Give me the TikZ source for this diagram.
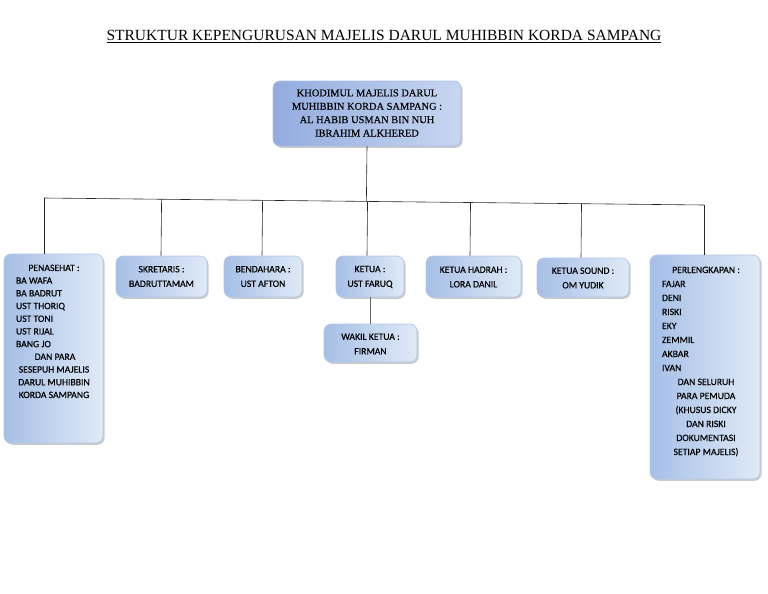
\documentclass[tikz,border=0pt]{standalone}
\usepackage{fontspec}
\setmainfont{Liberation Serif}
\newfontfamily\boxfont{Carlito}[FakeBold=0.35]
\newfontfamily\headfont{Liberation Serif}[FakeBold=0.25]
\usetikzlibrary{shadows,calc}

\definecolor{boxdark}{HTML}{A6BFE6}
\definecolor{boxlight}{HTML}{E0EAF7}
\definecolor{topdark}{HTML}{93ACDF}
\definecolor{toplight}{HTML}{C7D6F0}
\definecolor{boxedge}{HTML}{B3C7E9}

\tikzset{
  unitbox/.style={rounded corners=7pt, draw=boxedge, line width=0.6pt,
    left color=boxdark, right color=boxlight,
    drop shadow={shadow xshift=1.6pt, shadow yshift=-1.8pt, fill=black!45, opacity=0.45},
    inner sep=0pt},
  headbox/.style={unitbox, left color=topdark, right color=toplight, draw=topdark!80},
  unittext/.style={font=\boxfont\fontsize{9.7}{14.6}\selectfont, align=center, inner sep=0pt},
  listtext/.style={font=\boxfont\fontsize{9.7}{#1}\selectfont, align=left, inner sep=0pt, anchor=north},
  bus/.style={draw=black!85, line width=0.6pt},
}
% a line centred across the width of a list
\newcommand{\midline}[2]{\makebox[#1][c]{#2}}

\begin{document}
\begin{tikzpicture}[x=1pt,y=-1pt]
  \useasboundingbox (0,0) rectangle (768,594);

  % title
  \node[font=\fontsize{15.5}{18}\selectfont, inner sep=0pt, anchor=base] (title) at (384,40.7)
    {\underline{STRUKTUR KEPENGURUSAN MAJELIS DARUL MUHIBBIN KORDA SAMPANG}};

  % head of the organisation
  \node[headbox, minimum width=188pt, minimum height=65pt] (head) at (367,113.5) {};
  \node[font=\headfont\fontsize{10.4}{13.4}\selectfont, align=center, inner sep=0pt] (headtext) at (367,113)
    {KHODIMUL MAJELIS DARUL\\MUHIBBIN KORDA SAMPANG :\\AL HABIB USMAN BIN NUH\\IBRAHIM ALKHERED};

  % units
  \node[unitbox, minimum width=99pt, minimum height=189pt] (pen) at (53.5,348.5) {};
  \node[unitbox, minimum width=91pt, minimum height=41pt] (sek) at (161.5,276.5) {};
  \node[unitbox, minimum width=78pt, minimum height=41pt] (ben) at (263,276.5) {};
  \node[unitbox, minimum width=68pt, minimum height=41pt] (ket) at (370,276.5) {};
  \node[unitbox, minimum width=93pt, minimum height=38pt] (wak) at (370.5,343) {};
  \node[unitbox, minimum width=95pt, minimum height=41pt] (had) at (473.5,276.5) {};
  \node[unitbox, minimum width=92pt, minimum height=39pt] (sou) at (583,277.5) {};
  \node[unitbox, minimum width=110pt, minimum height=224pt] (per) at (705,367) {};

  % unit labels
  \node[unittext] (sektext) at (161.5,276.5) {SKRETARIS :\\BADRUTTAMAM};
  \node[unittext] (bentext) at (263,276.5) {BENDAHARA :\\UST AFTON};
  \node[unittext] (kettext) at (370,277) {KETUA :\\UST FARUQ};
  \node[unittext] (waktext) at (370.5,344) {WAKIL KETUA :\\FIRMAN};
  \node[unittext] (hadtext) at (473.5,277) {KETUA HADRAH :\\LORA DANIL};
  \node[unittext] (soutext) at (583,278) {KETUA SOUND :\\OM YUDIK};

  \node[listtext=12.7] (pentext) at (55,264.5)
    {\midline{76pt}{PENASEHAT :}\\BA WAFA\\BA BADRUT\\UST THORIQ\\UST TONI\\UST RIJAL\\BANG JO\\
     \midline{78pt}{DAN PARA}\\\midline{76pt}{SESEPUH MAJELIS}\\
     \midline{76pt}{DARUL MUHIBBIN}\\\midline{76pt}{KORDA SAMPANG}};

  \node[listtext=14.0] (pertext) at (706,266.5)
    {\midline{88pt}{PERLENGKAPAN :}\\FAJAR\\DENI\\RISKI\\EKY\\ZEMMIL\\AKBAR\\IVAN\\
     \midline{88pt}{DAN SELURUH}\\\midline{88pt}{PARA PEMUDA}\\\midline{88pt}{(KHUSUS DICKY}\\
     \midline{88pt}{DAN RISKI}\\\midline{88pt}{DOKUMENTASI}\\\midline{88pt}{SETIAP MAJELIS)}};

  % connectors
  \coordinate (busL) at (44,198);
  \coordinate (busR) at (704,205);
  \draw[bus] (busL) -- (busR);
  \draw[bus] (head.south) -- ($(busL)!(head.south)!(busR)$);
  \draw[bus] (busL) -- ([xshift=-9.5pt]pen.north);
  \draw[bus] ($(busL)!([xshift=-0.5pt]sek.north)!(busR)$) -- ([xshift=-0.5pt]sek.north);
  \draw[bus] ($(busL)!([xshift=-1pt]ben.north)!(busR)$) -- ([xshift=-1pt]ben.north);
  \draw[bus] ($(busL)!([xshift=-3pt]ket.north)!(busR)$) -- ([xshift=-3pt]ket.north);
  \draw[bus] ($(busL)!([xshift=-3.5pt]had.north)!(busR)$) -- ([xshift=-3.5pt]had.north);
  \draw[bus] ($(busL)!([xshift=-2pt]sou.north)!(busR)$) -- ([xshift=-2pt]sou.north);
  \draw[bus] (busR) -- ([xshift=-1pt]per.north);
  \draw[draw=black!60, line width=1pt] (ket.south) -- (ket.south |- wak.north);
\end{tikzpicture}
\end{document}
